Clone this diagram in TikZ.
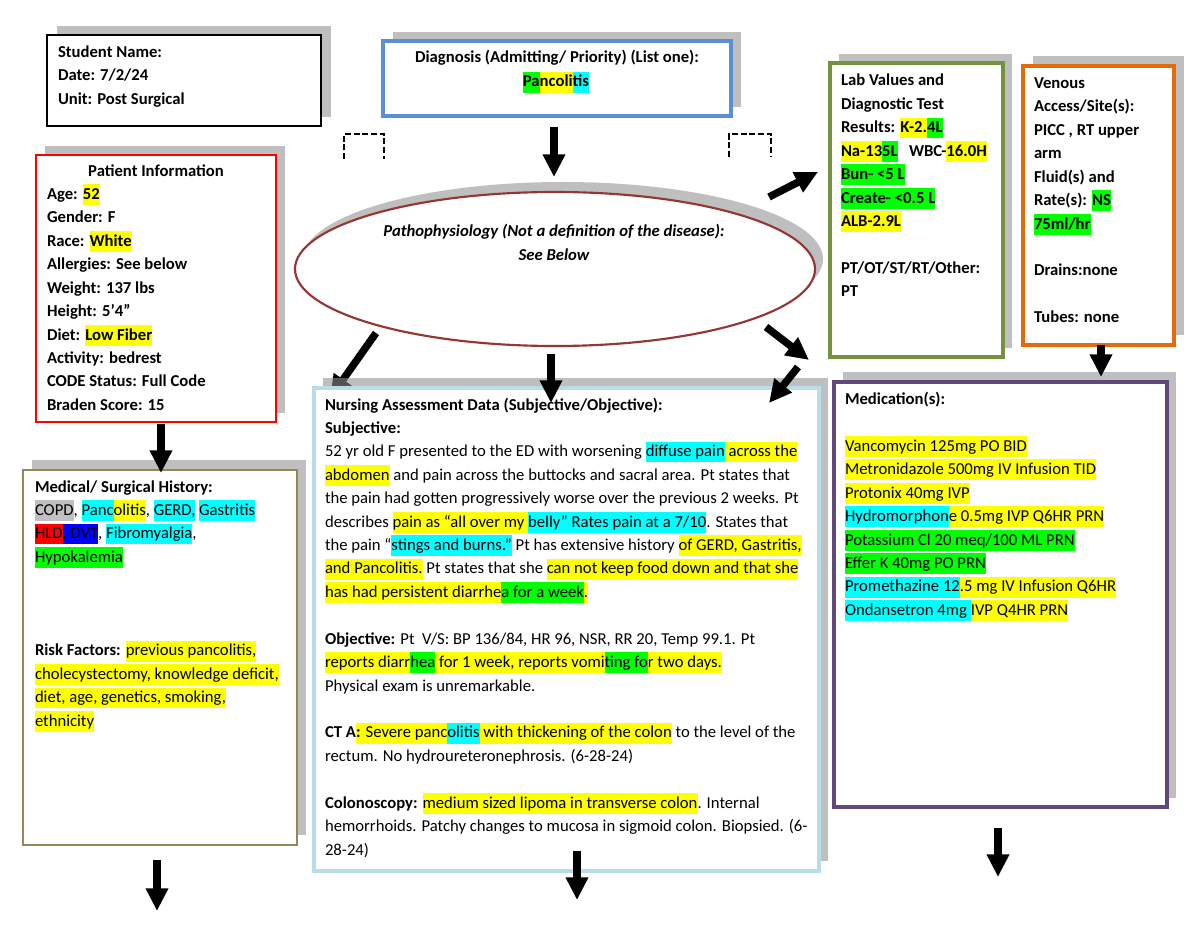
\documentclass[tikz,border=0pt]{standalone}
\usepackage{fontspec}
\setmainfont{Carlito}
\usetikzlibrary{arrows.meta,shapes.geometric}
\definecolor{shadowc}{gray}{0.57}
\definecolor{cBlue}{HTML}{5B8FD5}
\definecolor{cLight}{HTML}{B7DDE8}
\definecolor{cOlive}{HTML}{76923C}
\definecolor{cOrange}{HTML}{E36C0A}
\definecolor{cPurple}{HTML}{5F497A}
\definecolor{cKhaki}{HTML}{938953}
\definecolor{cMaroon}{HTML}{943634}
\definecolor{hlgray}{HTML}{C0C0C0}
\definecolor{hly}{HTML}{FFFF00}
\definecolor{hlc}{HTML}{00FFFF}
\definecolor{hlg}{HTML}{00FF00}
\definecolor{hlr}{HTML}{FF0000}
\definecolor{hlb}{HTML}{0000FF}
\newcommand\hl[2]{{\fboxsep=0pt\colorbox{#1}{\rule[-4.2pt]{0pt}{15.7pt}#2}}}
\newcommand\Y[1]{\hl{hly}{#1}}
\newcommand\C[1]{\hl{hlc}{#1}}
\newcommand\G[1]{\hl{hlg}{#1}}
\newcommand\tl[1]{\hbox{#1}}
\newcommand\tb[1]{\vtop{\baselineskip=17.57pt\lineskiplimit=-\maxdimen #1}}
\tikzset{
  shadowfill/.style={draw=none,fill=shadowc,opacity=.58,inner sep=0pt,outer sep=0pt},
  framebox/.style={fill=white,inner sep=0pt,outer sep=0pt},
  bodytext/.style={inner sep=0pt,outer sep=0pt,anchor=base west,font=\fontsize{12.5}{17.55}\selectfont},
  centertext/.style={inner sep=0pt,outer sep=0pt,anchor=base,font=\fontsize{12.5}{17.55}\selectfont},
  blockarrow/.style={line width=5.6pt,draw=black,-{Triangle[length=17pt,width=16pt]}},
  dashbracket/.style={draw=black,line width=1.1pt,dash pattern=on 4.5pt off 2pt},
}
% name, box style, x1, y1, x2, y2, shadow dx, shadow dy
\newcommand\boxit[8]{%
  \node[shadowfill,rectangle,minimum width={(#5-#3)*0.75pt},minimum height={(#6-#4)*0.75pt}]
    (#1shadow) at ({(#3+#5)/2+#7},{(#4+#6)/2+#8}) {};
  \node[framebox,rectangle,#2,minimum width={(#5-#3)*0.75pt},minimum height={(#6-#4)*0.75pt}]
    (#1) at ({(#3+#5)/2},{(#4+#6)/2}) {};
}
\begin{document}
\begin{tikzpicture}[x=0.75pt,y=-0.75pt]
\useasboundingbox[fill=white] (0,0) rectangle (1200,927);

% ellipse first, so that its name can be used
\node[shadowfill,ellipse,minimum width=390pt,minimum height=115.5pt] (ellshadow) at (563,259) {};
\node[framebox,ellipse,draw=cMaroon,line width=1.6pt,minimum width=390pt,minimum height=115.5pt] (patho) at (555,269) {};
\coordinate (nursingtop) at (566.5,388);

% arrow partly under the Nursing box
\draw[blockarrow] ([shift={(-179,-13)}]patho.south) -- ([shift={(-236.5,10)}]nursingtop);

\boxit{student}{draw=black,line width=2.2pt}{47}{35}{321}{126}{9.5}{-9}
\boxit{diag}{draw=cBlue,line width=2.4pt}{383}{41}{731}{116}{10}{-9}
\boxit{patient}{draw=red,line width=2.2pt}{36}{155}{276}{422}{9}{-9}
\boxit{medical}{draw=cKhaki,line width=2.2pt}{23}{470}{297}{845}{9}{-10}
\boxit{nursing}{draw=cLight,line width=3pt}{314}{388}{819}{871}{9}{-10}
\boxit{lab}{draw=cOlive,line width=2.4pt}{830}{63}{1003}{357}{9}{-9}
\boxit{venous}{draw=cOrange,line width=2.6pt}{1023}{66}{1174}{345}{9.5}{-9.5}
\boxit{meds}{draw=cPurple,line width=2.4pt}{834}{382}{1167}{807}{9}{-9.5}

% dashed brackets
\draw[dashbracket] (344,159) -- (344,134) -- (384,134) -- (384,159);
\draw[dashbracket] (729,157) -- (729,134) -- (771,134) -- (771,157);

% texts
\node[bodytext,font=\bfseries\fontsize{12.5}{17.55}\selectfont] (studenttext) at (58,57.5) {\tb{
  \tl{Student Name:}\tl{Date: 7/2/24}\tl{Unit: Post Surgical}}};

\node[centertext,font=\bfseries\fontsize{12.5}{17.55}\selectfont] (diagtitle) at (557,63) {Diagnosis (Admitting/ Priority) (List one):};
\node[centertext,font=\bfseries\fontsize{12.5}{17.55}\selectfont] (diagname) at (556,87) {\G{Pa}\Y{ncoli}\C{tis}};

\node[centertext,font=\bfseries\fontsize{12.5}{17.55}\selectfont] (patienttitle) at (156,177) {Patient Information};
\node[bodytext,font=\bfseries\fontsize{12.5}{17.55}\selectfont] (patienttext) at (47,199.5) {\tb{
  \tl{Age: \Y{52}}
  \tl{Gender: F}
  \tl{Race: \Y{White}}
  \tl{Allergies: See below}
  \tl{Weight: 137 lbs}
  \tl{Height: 5’4”}
  \tl{Diet: \Y{Low Fiber}}
  \tl{Activity: bedrest}
  \tl{CODE Status: Full Code}
  \tl{Braden Score: 15}}};

\node[centertext,font=\bfseries\itshape\fontsize{12.5}{17.55}\selectfont] (pathotitle) at (554,237) {Pathophysiology (Not a definition of the disease):};
\node[centertext,font=\bfseries\itshape\fontsize{12.5}{17.55}\selectfont] (pathosub) at (554,261) {See Below};

\node[bodytext] (medicaltext) at (35,492) {\tb{
  \tl{\textbf{Medical/ Surgical History:}}
  \tl{\hl{hlgray}{COPD}, \C{Panc}\Y{olitis}, \C{GERD,} \C{Gastritis}}
  \tl{\hl{hlr}{HLD}\hl{hlb}{, DVT}, \C{Fibromyalgia},}
  \tl{\G{Hypokalemia}}
  \tl{}\tl{}\tl{}
  \tl{\textbf{Risk Factors:} \Y{previous pancolitis,}}
  \tl{\Y{cholecystectomy, knowledge deficit,}}
  \tl{\Y{diet, age, genetics, smoking,}}
  \tl{\Y{ethnicity}}}};

\node[bodytext] (nursingtext) at (325,410) {\tb{
  \tl{\textbf{Nursing Assessment Data (Subjective/Objective):}}
  \tl{\textbf{Subjective:}}
  \tl{52 yr old F presented to the ED with worsening \C{diffuse pain}\Y{ across the}}
  \tl{\Y{abdomen} and pain across the buttocks and sacral area. Pt states that}
  \tl{the pain had gotten progressively worse over the previous 2 weeks. Pt}
  \tl{describes \Y{pain as “all over my }\C{belly” Rates pain at a 7/10}. States that}
  \tl{the pain “\C{stings and burns.”} Pt has extensive history \Y{of GERD, Gastritis,}}
  \tl{\Y{and Pancolitis.} Pt states that she \Y{can not keep food down and that she}}
  \tl{\Y{has had persistent diarrhe}\G{a for a week}\Y{.}}
  \tl{}
  \tl{\textbf{Objective:} Pt\ \ V/S: BP 136/84, HR 96, NSR, RR 20, Temp 99.1. Pt}
  \tl{\Y{reports diarr}\G{hea}\Y{ for 1 week, reports vomi}\G{ting fo}\Y{r two days.}}
  \tl{Physical exam is unremarkable.}
  \tl{}
  \tl{\textbf{CT A}\Y{\textbf{:} Severe panc}\C{olitis}\Y{ with thickening of the colon} to the level of the}
  \tl{rectum. No hydroureteronephrosis. (6-28-24)}
  \tl{}
  \tl{\textbf{Colonoscopy:} \Y{medium sized lipoma in transverse colon}. Internal}
  \tl{hemorrhoids. Patchy changes to mucosa in sigmoid colon. Biopsied. (6-}
  \tl{28-24)}}};

\node[bodytext,font=\bfseries\fontsize{12.5}{17.55}\selectfont] (labtext) at (841,86) {\tb{
  \tl{Lab Values and}
  \tl{Diagnostic Test}
  \tl{Results: \Y{K-2.}\G{4L}}
  \tl{\Y{Na-13}\G{5L}\ \ \ WBC-\Y{16.0H}}
  \tl{\G{Bun- <5 L}}
  \tl{\G{Create- <0.5 L}}
  \tl{\Y{ALB-2.9L}}
  \tl{}
  \tl{PT/OT/ST/RT/Other:}
  \tl{PT}}};

\node[bodytext,font=\bfseries\fontsize{12.5}{17.55}\selectfont] (venoustext) at (1034,88.5) {\tb{
  \tl{Venous}
  \tl{Access/Site(s):}
  \tl{PICC , RT upper}
  \tl{arm}
  \tl{Fluid(s) and}
  \tl{Rate(s): \G{NS}}
  \tl{\G{75ml/hr}}
  \tl{}
  \tl{Drains:none}
  \tl{}
  \tl{Tubes: none}}};

\node[bodytext] (medstext) at (845,404.5) {\tb{
  \tl{\textbf{Medication(s):}}
  \tl{}
  \tl{\Y{Vancomycin 125mg PO BID}}
  \tl{\Y{Metronidazole 500mg IV Infusion TID}}
  \tl{\Y{Protonix 40mg IVP}}
  \tl{\C{Hydromorphon}\Y{e 0.5mg IVP Q6HR PRN}}
  \tl{\G{Potassium Cl 20 meq/100 ML PRN}}
  \tl{\G{Effer K 40mg PO PRN}}
  \tl{\C{Promethazine 12}\Y{.5 mg IV Infusion Q6HR}}
  \tl{\C{Ondansetron 4mg }\Y{IVP Q4HR PRN}}}};

% connectors
\draw[blockarrow] ([shift={(-3,11)}]diag.south) -- ([shift={(-1,-15)}]patho.north);
\draw[blockarrow] ([shift={(5,2)}]patient.south) -- ([shift={(1,3)}]medical.north);
\draw[blockarrow] ([shift={(-4,8)}]patho.south) -- ([shift={(-15.5,15)}]nursing.north);
\draw[blockarrow] ([shift={(-46,-72)}]patho.east) -- ([shift={(-12,-38)}]lab.west);
\draw[blockarrow] ([shift={(-49,58)}]patho.east) -- ([shift={(-25,-22)}]meds.north west);
\draw[blockarrow] ([shift={(-17,98)}]patho.east) -- ([shift={(-50,15)}]nursing.north east);
\draw[blockarrow] ([shift={(2.5,0)}]venous.south) -- ([shift={(2.5,-5)}]meds.north -| venous.south);

\coordinate (medicalend) at (157,911);
\coordinate (nursingend) at (577,900);
\coordinate (medsend) at (998,877);
\draw[blockarrow] ([shift={(-3,15)}]medical.south) -- (medicalend);
\draw[blockarrow] ([shift={(10.5,-20)}]nursing.south) -- (nursingend);
\draw[blockarrow] ([shift={(-2.5,21)}]meds.south) -- (medsend);
\end{tikzpicture}
\end{document}
